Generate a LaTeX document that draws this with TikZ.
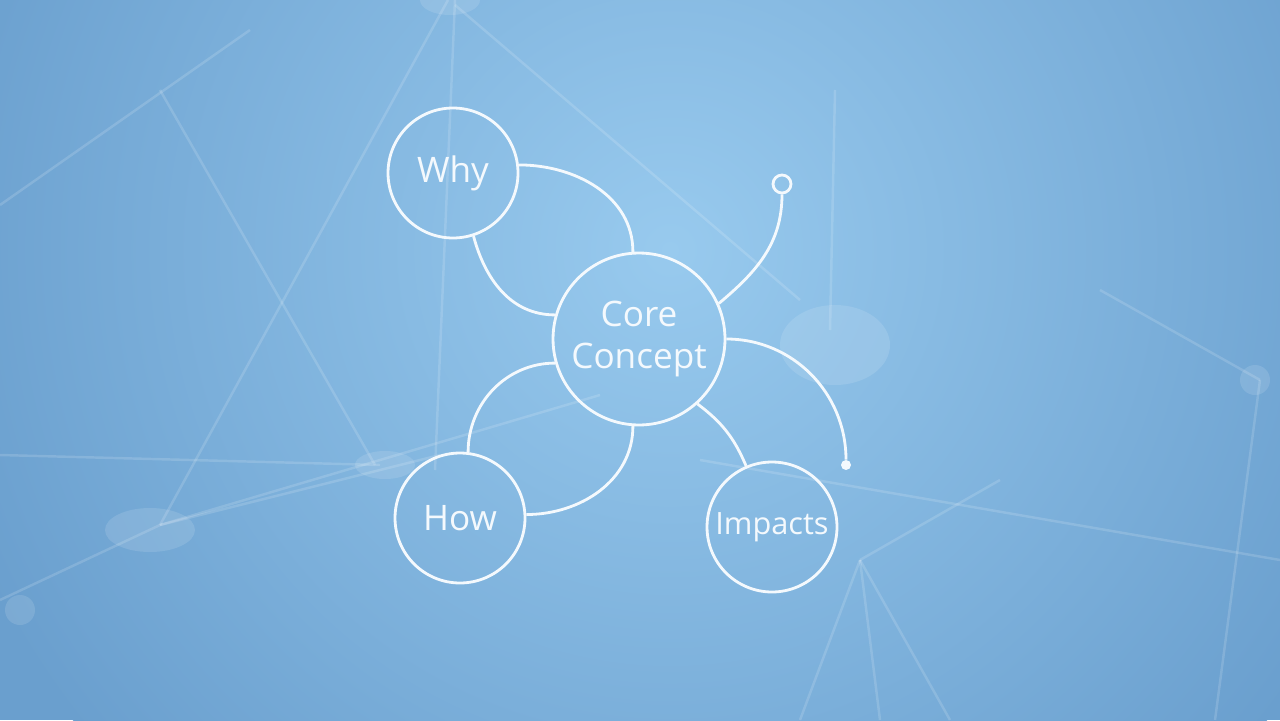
\documentclass[tikz,border=0pt]{standalone}
\usepackage{fontspec}
\setmainfont{Open Sans}
\definecolor{bgouter}{HTML}{6A9FCE}
\definecolor{bginner}{HTML}{98CAEE}
\definecolor{ink}{HTML}{F4F9FD}
\tikzset{
  bubble/.style={circle, draw=ink, line width=1.6pt, inner sep=0pt, text=ink, font=\fontsize{20}{24}\selectfont, align=center},
  link/.style={draw=ink, line width=1.6pt},
  netline/.style={draw=white, opacity=0.15, line width=1.4pt},
  blob/.style={fill=white, opacity=0.12},
}
\begin{document}
\begin{tikzpicture}[x=0.02cm, y=-0.02cm]
\useasboundingbox (0,0) rectangle (1280,720);
\begin{scope}
\clip (0,0) rectangle (1280,720);
\fill[bgouter] (0,0) rectangle (1280,720);
\shade[inner color=bginner, outer color=bgouter] (670,250) circle (760);
% faint background network
\draw[netline] (455,0) -- (435,470);
\draw[netline] (448,0) -- (160,525);
\draw[netline] (160,90) -- (375,465);
\draw[netline] (0,205) -- (250,30);
\draw[netline] (455,5) -- (800,300);
\draw[netline] (835,90) -- (830,330);
\draw[netline] (160,525) -- (440,455);
\draw[netline] (160,525) -- (600,395);
\draw[netline] (0,455) -- (380,465);
\draw[netline] (0,600) -- (160,525);
\draw[netline] (860,560) -- (800,720);
\draw[netline] (860,560) -- (880,720);
\draw[netline] (860,560) -- (950,720);
\draw[netline] (860,560) -- (1000,480);
\draw[netline] (1260,380) -- (1215,720);
\draw[netline] (1260,380) -- (1100,290);
\draw[netline] (700,460) -- (1280,560);
\fill[blob] (150,530) ellipse (45 and 22);
\fill[blob] (835,345) ellipse (55 and 40);
\fill[blob] (385,465) ellipse (30 and 14);
\fill[blob] (1255,380) circle (15);
\fill[blob] (20,610) circle (15);
\fill[blob] (450,0) ellipse (30 and 15);
\end{scope}
% main diagram
\node[bubble, minimum size=2.6cm] (why) at (453,173) {Why};
\node[bubble, minimum size=3.44cm] (core) at (639,339) {Core\\Concept};
\node[bubble, minimum size=2.6cm] (how) at (460,518) {How};
\node[bubble, minimum size=2.6cm, font=\fontsize{17.5}{21}\selectfont] (imp) at (772,527) {Impacts};
\node[circle, draw=ink, line width=1.6pt, inner sep=0pt, minimum size=0.36cm] (ring) at (782,184) {};
\node[circle, fill=ink, inner sep=0pt, minimum size=0.2cm] (dot) at (846,465) {};
\draw[link] (why.7) to[out=0, in=90] (core.94);
\draw[link] (why.-72) to[out=-75, in=180] (core.164);
\draw[link] (core.24) to[out=40, in=-90] (ring.south);
\draw[link] (core.0) to[out=0, in=90] (dot.north);
\draw[link] (core.196) to[out=180, in=90] (how.83);
\draw[link] (core.-94) to[out=-90, in=0] (how.3);
\draw[link] (core.-48) to[bend left=15] (imp.113);
\end{tikzpicture}
\end{document}
